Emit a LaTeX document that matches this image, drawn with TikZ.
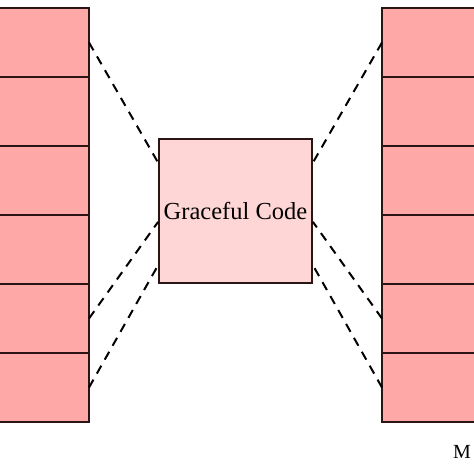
\documentclass[tikz,border=0pt]{standalone}
\usepackage{fontspec}
\setmainfont{Liberation Serif}
\usetikzlibrary{positioning}
\definecolor{cellpink}{HTML}{FFA8A8}
\definecolor{codepink}{HTML}{FFD6D6}
\definecolor{edgedark}{HTML}{2A1414}
\tikzset{
  cell/.style  ={draw=edgedark,line width=1.8pt,fill=cellpink,minimum width=95pt,minimum height=69pt,outer sep=0pt,inner sep=0pt},
  core/.style  ={draw=edgedark,line width=1.8pt,fill=codepink,minimum width=153pt,minimum height=144pt,inner sep=0pt,font=\fontsize{24.5}{28}\selectfont},
  link/.style  ={dashed,dash pattern=on 9pt off 7pt,line width=2pt,black},
  caption/.style={font=\fontsize{20}{24}\selectfont,inner sep=0pt}
}
\begin{document}
\begin{tikzpicture}[x=1pt,y=-1pt,node distance=0pt]
  \clip (0,0) rectangle (474,474);
  \fill[white] (0,0) rectangle (474,474);
  % left stack
  \node[cell] (l1) at (41.5,42.5) {};
  \node[cell,below=of l1] (l2) {};
  \node[cell,below=of l2] (l3) {};
  \node[cell,below=of l3] (l4) {};
  \node[cell,below=of l4] (l5) {};
  \node[cell,below=of l5] (l6) {};
  % right stack
  \node[cell] (r1) at (429.5,42.5) {};
  \node[cell,below=of r1] (r2) {};
  \node[cell,below=of r2] (r3) {};
  \node[cell,below=of r3] (r4) {};
  \node[cell,below=of r4] (r5) {};
  \node[cell,below=of r5] (r6) {};
  % middle
  \node[core] (code) at (235.5,211) {Graceful Code};
  \node[caption,anchor=base west] (mark) at (453,458) {M};
  \draw[link] (l1.east) -- (code.148);
  \draw[link] (l5.east) -- (code.188);
  \draw[link] (l6.east) -- (code.215);
  \draw[link] (r1.west) -- (code.32);
  \draw[link] (r5.west) -- (code.352);
  \draw[link] (r6.west) -- (code.325);
\end{tikzpicture}
\end{document}
